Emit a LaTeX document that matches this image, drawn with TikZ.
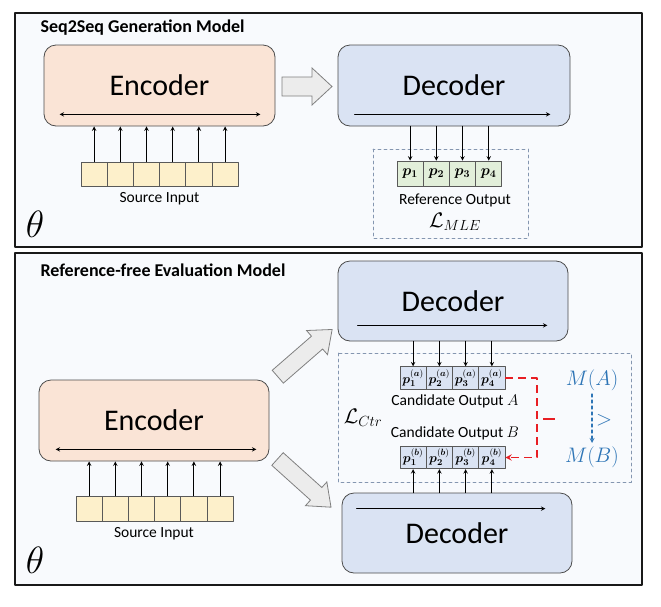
\documentclass[tikz,border=0pt]{standalone}
\usepackage{fix-cm}
\usepackage{amsmath,bm}
\usepackage{fontspec}
\setmainfont{Carlito}
\usetikzlibrary{positioning,calc}
\definecolor{panelbg}{RGB}{248,250,253}
\definecolor{encfill}{RGB}{250,228,214}
\definecolor{decfill}{RGB}{218,227,243}
\definecolor{srcfill}{RGB}{253,240,203}
\definecolor{reffill}{RGB}{226,239,218}
\definecolor{candfill}{RGB}{218,227,243}
\definecolor{groupline}{RGB}{132,150,176}
\definecolor{mblue}{RGB}{46,117,182}
\definecolor{lred}{RGB}{232,30,36}
\definecolor{arrfill}{RGB}{236,236,236}
\definecolor{arrline}{RGB}{128,128,128}
\newcommand{\pfont}{\fontsize{15}{16}\selectfont}
\newcommand{\qfont}{\fontsize{13}{14}\selectfont}
% fat block arrow: tail position, angle, length, half body, half head
\newcommand{\fatarrow}[5]{%
  \begin{scope}[shift={#1},rotate=#2]
    \draw[arrline,fill=arrfill,line width=0.8pt,line join=miter]
      (0,-#4) -- ({#3-20},-#4) -- ({#3-20},-#5) -- (#3,0)
      -- ({#3-20},#5) -- ({#3-20},#4) -- (0,#4) -- cycle;
  \end{scope}}
\begin{document}
\begin{tikzpicture}[line join=round,line cap=round,>=stealth,x=1pt,y=-1pt,
  panel/.style={draw=black!90,fill=panelbg,line width=1.6pt},
  coder/.style={draw=black!70,line width=0.8pt,rounded corners=12pt,
    font=\fontsize{30}{36}\selectfont},
  cell/.style={draw=black!65,line width=0.7pt,inner sep=0pt},
  refcell/.style={cell,fill=reffill,minimum width=26.2pt,minimum height=25pt,font=\pfont},
  candcell/.style={cell,fill=candfill,minimum width=26.25pt,minimum height=22.5pt,font=\qfont},
  small/.style={font=\fontsize{15.5}{18}\selectfont},
  title/.style={font=\bfseries\fontsize{18}{21}\selectfont,anchor=west},
  bigmath/.style={font=\fontsize{21}{24}\selectfont},
  group/.style={draw=groupline,dashed,line width=0.8pt},
  lossline/.style={color=lred,line width=1.8pt,dash pattern=on 8pt off 5pt,line cap=butt}]
  \useasboundingbox (0,0) rectangle (661,606);
  % panels
  \draw[panel] (15,13) rectangle (642,247);
  \draw[panel] (15,253) rectangle (642,585);
  \node[title] (t1) at (37,28) {Seq2Seq Generation Model};
  \node[title] (t2) at (37,270) {Reference-free Evaluation Model};
  \node[font=\fontsize{38}{40}\selectfont] (th1) at (35,224) {$\theta$};
  \node[font=\fontsize{38}{40}\selectfont] (th2) at (35,560) {$\theta$};

  % ---- Seq2Seq ----
  \node[coder,fill=encfill,minimum width=231pt,minimum height=81pt] (enc1) at (159.5,85.5) {Encoder};
  \node[coder,fill=decfill,minimum width=232pt,minimum height=81pt] (dec1) at (454,85.5) {Decoder};
  \draw[<->,line width=1pt] ([xshift=16pt,yshift=12pt]enc1.south west) -- ([xshift=-15pt,yshift=12pt]enc1.south east);
  \draw[->,line width=1pt] ([xshift=17pt,yshift=12pt]dec1.south west) -- ([xshift=-20pt,yshift=12pt]dec1.south east);
  \fatarrow{(282,86.5)}{0}{50}{9.5}{18.5}
  \foreach \k in {1,...,6}{
    \node[cell,fill=srcfill,minimum width=26.2pt,minimum height=24pt] (sa\k) at ({94.1+26.2*(\k-1)},174) {};
    \draw[->,line width=1pt] (sa\k.north) -- (sa\k.north |- enc1.south);
  }
  \node[small] (src1) at (159.5,199) {Source Input};
  \draw[group] (373,149) rectangle (528,238);
  \foreach \k in {1,...,4}{
    \node[refcell] (ro\k) at ({410.1+26.2*(\k-1)},173.5) {$\bm{p}_{\bm{\k}}$};
    \draw[->,line width=1pt] (ro\k.north |- dec1.south) -- (ro\k.north);
  }
  \node[small] (ref) at (455,200) {Reference Output};
  \node[bigmath] (mle) at (455,222) {$\mathcal{L}_{MLE}$};

  % ---- Reference-free ----
  \node[coder,fill=encfill,minimum width=230pt,minimum height=81pt] (enc2) at (154,420.5) {Encoder};
  \node[coder,fill=decfill,minimum width=230pt,minimum height=80pt] (dec2) at (453,301) {Decoder};
  \node[coder,fill=decfill,minimum width=230pt,minimum height=80pt] (dec3) at (457,533) {Decoder};
  \draw[<->,line width=1pt] ([xshift=17pt,yshift=12pt]enc2.south west) -- ([xshift=-13pt,yshift=12pt]enc2.south east);
  \draw[->,line width=1pt] ([xshift=20pt,yshift=16pt]dec2.south west) -- ([xshift=-21pt,yshift=16pt]dec2.south east);
  \draw[->,line width=1pt] ([xshift=15pt,yshift=-16pt]dec3.north west) -- ([xshift=-27pt,yshift=-16pt]dec3.north east);
  \fatarrow{(277.8,376.7)}{41}{72}{8.5}{16}
  \fatarrow{(277.5,459)}{-42}{72}{8.5}{16}
  \foreach \k in {1,...,6}{
    \node[cell,fill=srcfill,minimum width=26.2pt,minimum height=25pt] (sb\k) at ({89.1+26.2*(\k-1)},508.5) {};
    \draw[->,line width=1pt] (sb\k.north) -- (sb\k.north |- enc2.south);
  }
  \node[small] (src2) at (154,534) {Source Input};
  \draw[group] (338,353) rectangle (631,482);
  \foreach \k in {1,...,4}{
    \node[candcell] (ca\k) at ({413.1+26.25*(\k-1)},378) {$\bm{p}_{\bm{\k}}^{(\bm{a})}$};
    \node[candcell] (cb\k) at ({413.1+26.25*(\k-1)},457.5) {$\bm{p}_{\bm{\k}}^{(\bm{b})}$};
    \draw[->,line width=1pt] (ca\k.north |- dec2.south) -- (ca\k.north);
    \draw[->,line width=1pt] (cb\k.south |- dec3.north) -- (cb\k.south);
  }
  \node[small] (canda) at (455,401) {Candidate Output $A$};
  \node[small] (candb) at (455,433) {Candidate Output $B$};
  \node[bigmath] (ctr) at (363,418) {$\mathcal{L}_{Ctr}$};
  \draw[lossline,->] (ca4.east) -- ++(32,0) |- (cb4.east);
  \draw[color=lred,line width=1.8pt,line cap=butt] (543,419) -- (555,419);
  \node[bigmath,text=mblue] (ma) at (592,380) {$M(A)$};
  \node[bigmath,text=mblue] (mb) at (592,457) {$M(B)$};
  \node[bigmath,text=mblue] (gt) at (604,420) {$>$};
  \draw[->,mblue,line width=1.2pt,dashed] (ma) -- (mb);
\end{tikzpicture}
\end{document}
